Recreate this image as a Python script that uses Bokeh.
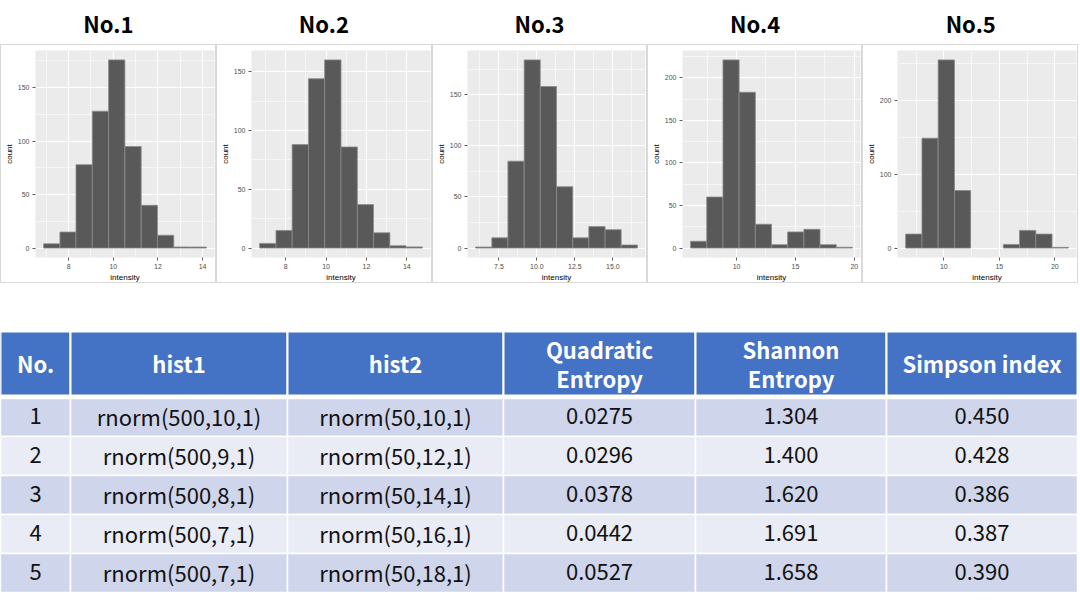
from bokeh.plotting import figure
from bokeh.layouts import column, row, Spacer
from bokeh.models import Range1d, FixedTicker, FactorRange
from bokeh.core.properties import value
from bokeh.embed import file_html
from bokeh.resources import INLINE

# ---------------- data ----------------
titles = ["No.1", "No.2", "No.3", "No.4", "No.5"]

edges1 = [6.88, 7.61, 8.33, 9.06, 9.79, 10.52, 11.25, 11.98, 12.71, 13.44, 14.17]
counts1 = [4, 15, 78, 128, 176, 95, 40, 12, 1, 1]
edges2 = [6.71, 7.52, 8.32, 9.13, 9.93, 10.74, 11.55, 12.35, 13.16, 13.96, 14.77]
counts2 = [4, 15, 88, 144, 160, 86, 37, 13, 2, 1]
edges3 = [5.96, 7.03, 8.09, 9.16, 10.22, 11.29, 12.36, 13.42, 14.49, 15.55, 16.62]
counts3 = [1, 10, 85, 184, 158, 60, 10, 21, 18, 3]
edges4 = [6.10, 7.47, 8.85, 10.22, 11.60, 12.97, 14.34, 15.72, 17.09, 18.47, 19.84]
counts4 = [8, 60, 221, 183, 28, 4, 19, 22, 4, 1]
edges5 = [6.56, 8.03, 9.49, 10.96, 12.42, 13.89, 15.36, 16.82, 18.29, 19.75, 21.22]
counts5 = [19, 149, 255, 78, 0, 0, 5, 24, 19, 1]

x_ticks1 = [8, 10, 12, 14]
x_ticks2 = [8, 10, 12, 14]
x_ticks3 = [7.5, 10, 12.5, 15]
x_tick_labels3 = ["7.5", "10.0", "12.5", "15.0"]
x_ticks4 = [10, 15, 20]
x_ticks5 = [10, 15, 20]
y_ticks1 = [0, 50, 100, 150]
y_ticks2 = [0, 50, 100, 150]
y_ticks3 = [0, 50, 100, 150]
y_ticks4 = [0, 50, 100, 150, 200]
y_ticks5 = [0, 100, 200]

x_minor1 = [7, 9, 11, 13]
x_minor2 = [7, 9, 11, 13]
x_minor3 = [6.25, 8.75, 11.25, 13.75, 16.25]
x_minor4 = [7.5, 12.5, 17.5]
x_minor5 = [7.5, 12.5, 17.5]
y_minor1 = [25, 75, 125, 175]
y_minor2 = [25, 75, 125]
y_minor3 = [25, 75, 125, 175]
y_minor4 = [25, 75, 125, 175, 225]
y_minor5 = [50, 150, 250]

tbl_header = ["No.", "hist1", "hist2", "Quadratic\nEntropy", "Shannon\nEntropy", "Simpson index"]
tbl_no = ["1", "2", "3", "4", "5"]
tbl_hist1 = ["rnorm(500,10,1)", "rnorm(500,9,1)", "rnorm(500,8,1)", "rnorm(500,7,1)", "rnorm(500,7,1)"]
tbl_hist2 = ["rnorm(50,10,1)", "rnorm(50,12,1)", "rnorm(50,14,1)", "rnorm(50,16,1)", "rnorm(50,18,1)"]
quadratic = [0.0275, 0.0296, 0.0378, 0.0442, 0.0527]
shannon = [1.304, 1.400, 1.620, 1.691, 1.658]
simpson = [0.450, 0.428, 0.386, 0.387, 0.390]

# ---------------- style ----------------
PANEL_WIDTHS = [216, 216, 215, 215, 216]
PANEL_H = 239
TXT_FONT = "Liberation Sans"
JP_FONT = "Noto Sans CJK JP"


def make_panel(w, edges, counts, xt, xm, yt, ym, xlabels=None):
    lo, hi = edges[0], edges[-1]
    xpad = (hi - lo) * 0.05
    ymax = max(counts)
    ypad = ymax * 0.05
    p = figure(width=w, height=PANEL_H, output_backend="svg", toolbar_location=None,
               x_range=Range1d(lo - xpad, hi + xpad), y_range=Range1d(-ypad, ymax + ypad),
               min_border_left=29, min_border_right=3, min_border_top=5, min_border_bottom=26,
               background_fill_color="#EBEBEB", border_fill_color="white",
               outline_line_color=None,
               styles={"border": "1px solid #D9D9D9"})
    p.xaxis.ticker = FixedTicker(ticks=xt, minor_ticks=xm)
    p.yaxis.ticker = FixedTicker(ticks=yt, minor_ticks=ym)
    if xlabels:
        p.xaxis.major_label_overrides = {t: l for t, l in zip(xt, xlabels)}
    for g in (p.xgrid, p.ygrid):
        g.grid_line_color = "white"
        g.grid_line_width = 1.1
        g.minor_grid_line_color = "white"
        g.minor_grid_line_width = 0.55
    for ax in (p.xaxis, p.yaxis):
        ax.axis_line_color = None
        ax.major_tick_line_color = "#333333"
        ax.major_tick_line_width = 0.8
        ax.major_tick_out = 3
        ax.major_tick_in = 0
        ax.minor_tick_line_color = None
        ax.major_label_text_font = TXT_FONT
        ax.major_label_text_font_size = "7px"
        ax.major_label_text_color = "#4D4D4D"
        ax.major_label_standoff = 2
        ax.axis_label_text_font = TXT_FONT
        ax.axis_label_text_font_size = "8px"
        ax.axis_label_text_font_style = "normal"
        ax.axis_label_text_color = "#000000"
        ax.axis_label_standoff = 1
    p.xaxis.axis_label = "intensity"
    p.yaxis.axis_label = "count"
    outline = ["#8C8C8C" if c > 0 else "rgba(0,0,0,0)" for c in counts]
    p.quad(left=edges[:-1], right=edges[1:], top=counts, bottom=0,
           fill_color="#595959", line_color=outline, line_width=0.8)
    return p


panels = [
    make_panel(PANEL_WIDTHS[0], edges1, counts1, x_ticks1, x_minor1, y_ticks1, y_minor1),
    make_panel(PANEL_WIDTHS[1], edges2, counts2, x_ticks2, x_minor2, y_ticks2, y_minor2),
    make_panel(PANEL_WIDTHS[2], edges3, counts3, x_ticks3, x_minor3, y_ticks3, y_minor3, x_tick_labels3),
    make_panel(PANEL_WIDTHS[3], edges4, counts4, x_ticks4, x_minor4, y_ticks4, y_minor4),
    make_panel(PANEL_WIDTHS[4], edges5, counts5, x_ticks5, x_minor5, y_ticks5, y_minor5),
]

# titles row
tp = figure(width=1078, height=44, output_backend="svg", toolbar_location=None,
            x_range=FactorRange(*titles), y_range=Range1d(0, 44),
            x_axis_location=None, y_axis_location=None, min_border=0,
            outline_line_color=None)
tp.grid.visible = False
tp.text(x=titles, y=[22] * len(titles), text=titles, text_font=value(JP_FONT),
        text_font_size="22px", text_font_style="bold", text_color="#000000",
        text_align="center", text_baseline="middle")

# table
col_edges = [0, 70, 287, 503, 695, 886, 1077]
head_top, head_bot = 331, 395
row_tops = [398, 436, 475, 514, 553]
row_bots = [436, 475, 514, 553, 592]
row_colors = ["#CFD5EA", "#E9EBF5", "#CFD5EA", "#E9EBF5", "#CFD5EA"]

t = figure(width=1077, height=265, output_backend="svg", toolbar_location=None,
           x_range=Range1d(0, 1077), y_range=Range1d(595, 330),
           x_axis_location=None, y_axis_location=None, min_border=0,
           outline_line_color=None)
t.grid.visible = False

ncol = len(col_edges) - 1
t.quad(left=col_edges[:-1], right=col_edges[1:], top=[head_top] * ncol, bottom=[head_bot] * ncol,
       fill_color="#4472C4", line_color="white", line_width=2)
L, R, T, B, C = [], [], [], [], []
for i in range(len(tbl_no)):
    for j in range(ncol):
        L.append(col_edges[j]); R.append(col_edges[j + 1])
        T.append(row_tops[i]); B.append(row_bots[i]); C.append(row_colors[i])
t.quad(left=L, right=R, top=T, bottom=B, fill_color=C, line_color="white", line_width=1.5)

centers = [(col_edges[j] + col_edges[j + 1]) / 2 for j in range(ncol)]
hx, hy, ht = [], [], []
for j, h in enumerate(tbl_header):
    parts = h.split("\n")
    if len(parts) == 1:
        hx.append(centers[j]); hy.append(362); ht.append(parts[0])
    else:
        hx += [centers[j], centers[j]]; hy += [348, 377]; ht += parts
t.text(x=hx, y=hy, text=ht, text_font=value(JP_FONT), text_font_size="22px",
       text_font_style="bold", text_color="white", text_align="center", text_baseline="middle")

cols_txt = [tbl_no, tbl_hist1, tbl_hist2,
            [f"{v:.4f}" for v in quadratic],
            [f"{v:.3f}" for v in shannon],
            [f"{v:.3f}" for v in simpson]]
bx, by, bt = [], [], []
for j, colvals in enumerate(cols_txt):
    for i, s in enumerate(colvals):
        bx.append(centers[j]); by.append((row_tops[i] + row_bots[i]) / 2 - 1.5); bt.append(s)
t.text(x=bx, y=by, text=bt, text_font=value(JP_FONT), text_font_size="22px",
       text_color="#111111", text_align="center", text_baseline="middle")

layout = column(tp, row(*panels), Spacer(height=47), t)

open("out.html", "w").write(file_html(layout, INLINE))
